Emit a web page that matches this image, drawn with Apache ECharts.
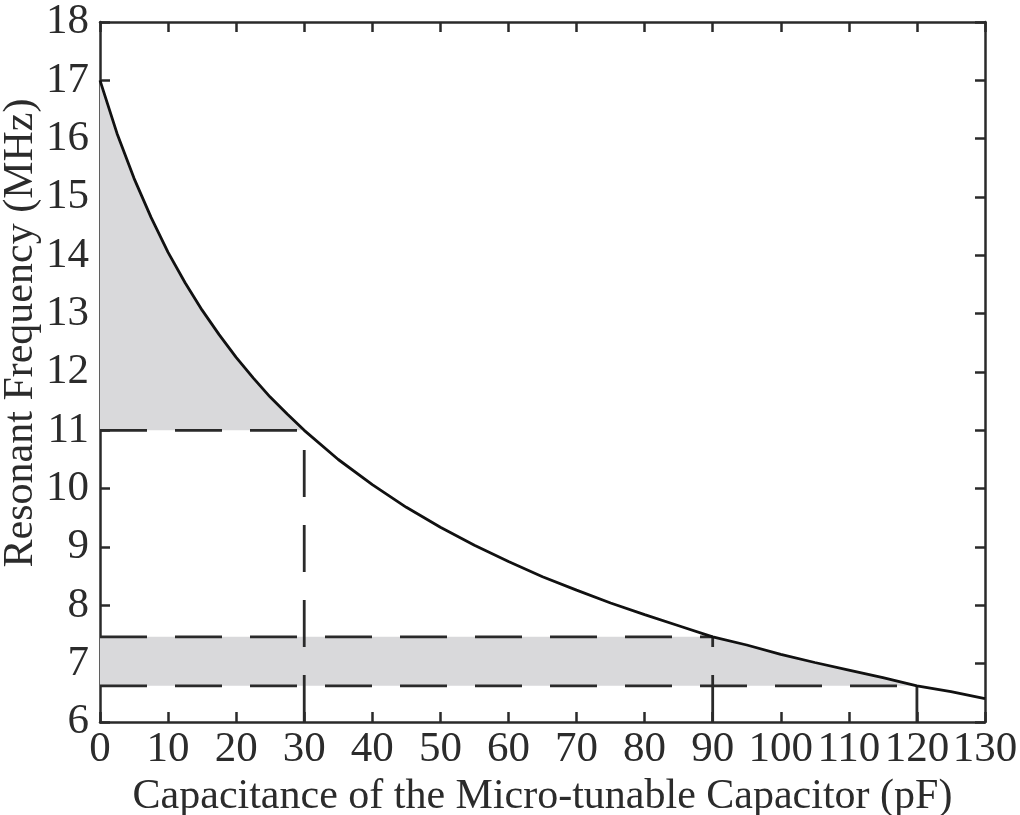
<!DOCTYPE html>
<html>
<head>
<meta charset="utf-8">
<script src="https://cdn.jsdelivr.net/npm/echarts@6/dist/echarts.min.js"></script>
<style>
html,body{margin:0;padding:0;background:#fff;}
#chart{width:1020px;height:815px;}
</style>
</head>
<body>
<div id="chart"></div>
<script>
// Data
const capacitance = [0,2.5,5,7.5,10,12.5,15,17.5,20,22.5,25,27.5,30,35,40,45,50,55,60,65,70,75,80,85,90,95,100,105,110,115,120,125,130];
const frequency   = [17.00,16.09,15.32,14.65,14.05,13.53,13.06,12.64,12.25,11.90,11.57,11.28,11.00,10.50,10.07,9.68,9.34,9.03,8.75,8.49,8.26,8.04,7.84,7.65,7.46,7.32,7.16,7.02,6.89,6.76,6.62,6.52,6.40];
// reference levels (MHz) and capacitances (pF)
const upperLevel = 11;      // at 30 pF
const upperCap = 30;
const bandHigh = 7.46;      // at 90 pF
const bandHighCap = 90;
const bandLow = 6.62;       // at 120 pF
const bandLowCap = 120;

const curve = capacitance.map((c,i)=>[c,frequency[i]]);

// Polygons (in data units) for the shaded regions
const region1 = [[0, upperLevel]].concat(curve.filter(p=>p[0]<=upperCap)).concat([[upperCap, upperLevel]]);
const region2 = [[0, bandLow],[0, bandHigh],[bandHighCap, bandHigh]]
  .concat(curve.filter(p=>p[0]>=bandHighCap && p[0]<=bandLowCap))
  .concat([[bandLowCap, bandLow]]);
const regions = [region1, region2];

const FONT = 'Liberation Serif';
const TXT = '#2b2b2b';
const LINE = '#2a2a2a';
const DASH = [47, 28];

const chart = echarts.init(document.getElementById('chart'), null, {renderer:'canvas'});

function axisCommon(){
  return {
    axisLine:{show:true,onZero:false,lineStyle:{color:LINE,width:2.5}},
    axisTick:{show:true,inside:true,length:10,lineStyle:{color:LINE,width:2.5}},
    splitLine:{show:false}
  };
}

function dashed(data){
  return {type:'line',data:data,symbol:'none',silent:true,z:3,
    lineStyle:{color:LINE,width:2.8,type:DASH},xAxisIndex:0,yAxisIndex:0};
}

const option = {
  animation:false,
  backgroundColor:'#fff',
  grid:{left:100,right:35,top:22,bottom:93,containLabel:false,outerBoundsMode:'none'},
  xAxis:[
    Object.assign({type:'value',min:0,max:130,interval:10,position:'bottom',
      axisLabel:{show:true,fontFamily:FONT,fontSize:43,color:TXT,margin:6,hideOverlap:false},
      name:'Capacitance of the Micro-tunable Capacitor (pF)',nameLocation:'middle',nameGap:39,
      nameTextStyle:{fontFamily:FONT,fontSize:42,color:TXT}}, axisCommon()),
    Object.assign({type:'value',min:0,max:130,interval:10,position:'top',
      axisLabel:{show:false}}, axisCommon())
  ],
  yAxis:[
    Object.assign({type:'value',min:6,max:18,interval:1,position:'left',
      axisLabel:{show:true,fontFamily:FONT,fontSize:43,color:TXT,margin:11}}, axisCommon()),
    Object.assign({type:'value',min:6,max:18,interval:1,position:'right',
      axisLabel:{show:false}}, axisCommon())
  ],
  graphic:[{
    type:'text',x:21,y:333,rotation:Math.PI/2,
    style:{text:'Resonant Frequency (MHz)',font:'42px "Liberation Serif"',fill:TXT,
      textAlign:'center',textVerticalAlign:'middle'}
  }],
  series:[
    {type:'custom',xAxisIndex:0,yAxisIndex:0,z:1,silent:true,
     data:[[0,upperLevel],[0,bandLow]],
     renderItem:function(params,api){
       const poly = regions[params.dataIndex].map(p=>api.coord(p));
       return {type:'polygon',shape:{points:poly},style:{fill:'#d9d9db',stroke:null}};
     }},
    dashed([[0,upperLevel],[upperCap,upperLevel]]),
    dashed([[upperCap,6],[upperCap,upperLevel]]),
    dashed([[0,bandHigh],[bandHighCap,bandHigh]]),
    dashed([[bandHighCap,6],[bandHighCap,bandHigh]]),
    dashed([[0,bandLow],[bandLowCap,bandLow]]),
    dashed([[bandLowCap,6],[bandLowCap,bandLow]]),
    {type:'line',data:curve,symbol:'none',silent:true,z:4,smooth:false,
     lineStyle:{color:'#111',width:2.8},xAxisIndex:0,yAxisIndex:0}
  ]
};
chart.setOption(option);
</script>
</body>
</html>
